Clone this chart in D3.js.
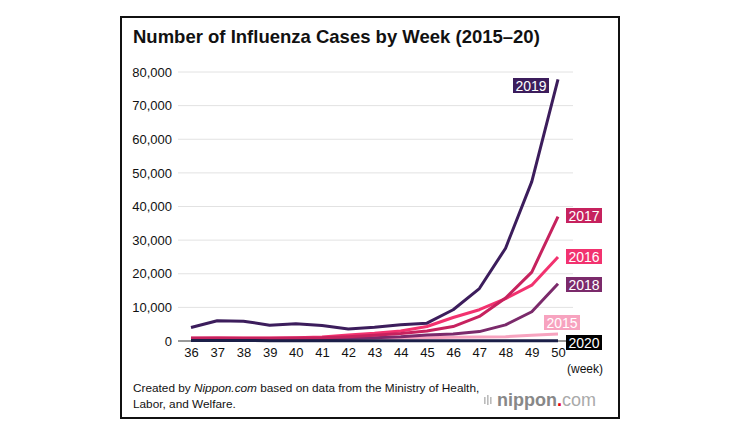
<!DOCTYPE html>
<html lang="en">
<head>
    <meta charset="UTF-8">
    <title>Influenza cases by week</title>
    <script src="https://cdn.jsdelivr.net/npm/d3@7"></script>
    <style>
        body { margin: 0; background: #fff; }
        text { font-family: "Liberation Sans", Arial, sans-serif; }
    </style>
</head>
<body>
<script>
    // data
    var weeks = [36, 37, 38, 39, 40, 41, 42, 43, 44, 45, 46, 47, 48, 49, 50];
    var yTicks = [0, 10000, 20000, 30000, 40000, 50000, 60000, 70000, 80000];
    var seriesNames = ["2015", "2018", "2016", "2017", "2019", "2020"];
    var v2015 = [700, 700, 600, 600, 600, 700, 700, 800, 900, 1000, 1100, 1200, 1300, 1700, 2100];
    var v2016 = [800, 900, 900, 900, 1000, 1200, 1800, 2300, 3000, 4300, 7000, 9300, 12600, 16600, 25000];
    var v2017 = [900, 900, 800, 800, 900, 1000, 1300, 1700, 2200, 3000, 4300, 7300, 12800, 20500, 37000];
    var v2018 = [600, 600, 600, 600, 700, 700, 800, 1000, 1300, 1800, 2100, 2800, 4800, 8700, 17000];
    var v2019 = [4000, 6000, 5900, 4700, 5100, 4600, 3600, 4100, 4800, 5300, 9300, 15600, 27600, 47400, 77800];
    var v2020 = [150, 150, 150, 100, 100, 100, 100, 100, 100, 100, 100, 100, 100, 100, 100];

    var values = {"2015": v2015, "2016": v2016, "2017": v2017, "2018": v2018, "2019": v2019, "2020": v2020};
    var colors = {"2015": "#f7a3bf", "2016": "#f2326f", "2017": "#c6225e", "2018": "#7b2a6b", "2019": "#3c1d5c", "2020": "#000000"};
    var lineColors = {"2020": "#1b1f48"};
    // label box top-left (pixel) for each series, as in the original
    var labelPos = {"2019": [513, 78], "2017": [566, 208], "2016": [566, 249], "2018": [566, 277], "2015": [544, 315], "2020": [566, 335]};

    var W = 735, H = 441;
    var svg = d3.select("body").append("svg")
        .attr("width", W)
        .attr("height", H);

    // frame
    svg.append("rect")
        .attr("x", 121).attr("y", 17)
        .attr("width", 498).attr("height", 401)
        .attr("fill", "#fff")
        .attr("stroke", "#111")
        .attr("stroke-width", 2);

    svg.append("text")
        .attr("x", 133).attr("y", 43)
        .attr("font-size", 18.5)
        .attr("font-weight", "bold")
        .attr("fill", "#111")
        .text("Number of Influenza Cases by Week (2015–20)");

    var x = d3.scaleLinear().domain([36, 50]).range([191, 558]);
    var y = d3.scaleLinear().domain([0, 80000]).range([341, 72]);

    // grid
    svg.append("g").selectAll("line")
        .data(yTicks.filter(d => d > 0))
        .enter().append("line")
        .attr("x1", 178).attr("x2", 573)
        .attr("y1", d => y(d)).attr("y2", d => y(d))
        .attr("stroke", "#e2e2e2")
        .attr("stroke-width", 1);
    svg.append("line")
        .attr("x1", 178).attr("x2", 573)
        .attr("y1", y(0)).attr("y2", y(0))
        .attr("stroke", "#777")
        .attr("stroke-width", 1.5);

    var yAxis = d3.axisLeft(y).tickValues(yTicks).tickSize(0).tickPadding(0)
        .tickFormat(d3.format(","));
    var gy = svg.append("g").attr("transform", "translate(172,0)").call(yAxis);
    gy.select(".domain").remove();
    gy.selectAll("text").attr("font-size", 13).attr("fill", "#111")
        .style("font-family", "Liberation Sans, Arial, sans-serif");

    var xAxis = d3.axisBottom(x).tickValues(weeks).tickSize(0).tickPadding(6)
        .tickFormat(d3.format("d"));
    var gx = svg.append("g").attr("transform", "translate(0,342)").call(xAxis);
    gx.select(".domain").remove();
    gx.selectAll("text").attr("font-size", 13).attr("fill", "#111")
        .style("font-family", "Liberation Sans, Arial, sans-serif");

    svg.append("text")
        .attr("x", 585).attr("y", 373)
        .attr("text-anchor", "middle")
        .attr("font-size", 12)
        .attr("fill", "#111")
        .text("(week)");

    var line = d3.line()
        .x((d, i) => x(weeks[i]))
        .y(d => y(d));

    svg.append("g").selectAll("path")
        .data(seriesNames)
        .enter().append("path")
        .attr("d", s => line(values[s]))
        .attr("fill", "none")
        .attr("stroke", s => lineColors[s] || colors[s])
        .attr("stroke-width", 3)
        .attr("stroke-linejoin", "round");

    // series labels
    var lab = svg.append("g").selectAll("g")
        .data(seriesNames)
        .enter().append("g")
        .attr("transform", s => `translate(${labelPos[s][0]},${labelPos[s][1]})`);
    lab.append("rect")
        .attr("width", 36).attr("height", 15)
        .attr("fill", s => colors[s]);
    lab.append("text")
        .attr("x", 18).attr("y", 12.5)
        .attr("text-anchor", "middle")
        .attr("font-size", 14)
        .attr("fill", "#fff")
        .text(s => s);

    // footer
    var foot = svg.append("text")
        .attr("x", 133).attr("y", 392)
        .attr("font-size", 11.8)
        .attr("fill", "#111");
    foot.append("tspan").text("Created by ");
    foot.append("tspan").attr("font-style", "italic").text("Nippon.com");
    foot.append("tspan").text(" based on data from the Ministry of Health,");
    svg.append("text")
        .attr("x", 133).attr("y", 408)
        .attr("font-size", 11.8)
        .attr("fill", "#111")
        .text("Labor, and Welfare.");

    // logo
    var logo = svg.append("g");
    [0, 3, 6].forEach(function (dx, i) {
        logo.append("rect")
            .attr("x", 484 + dx).attr("y", 397 - (i === 1 ? 2 : 0))
            .attr("width", 1.6).attr("height", i === 1 ? 10 : 7)
            .attr("fill", "#bbb");
    });
    var lt = logo.append("text")
        .attr("x", 497).attr("y", 406)
        .attr("font-size", 18)
        .attr("fill", "#888");
    lt.append("tspan").attr("font-weight", "bold").text("nippon");
    lt.append("tspan").attr("fill", "#e60012").attr("font-weight", "bold").text(".");
    lt.append("tspan").attr("fill", "#aaa").text("com");
</script>
</body>
</html>
